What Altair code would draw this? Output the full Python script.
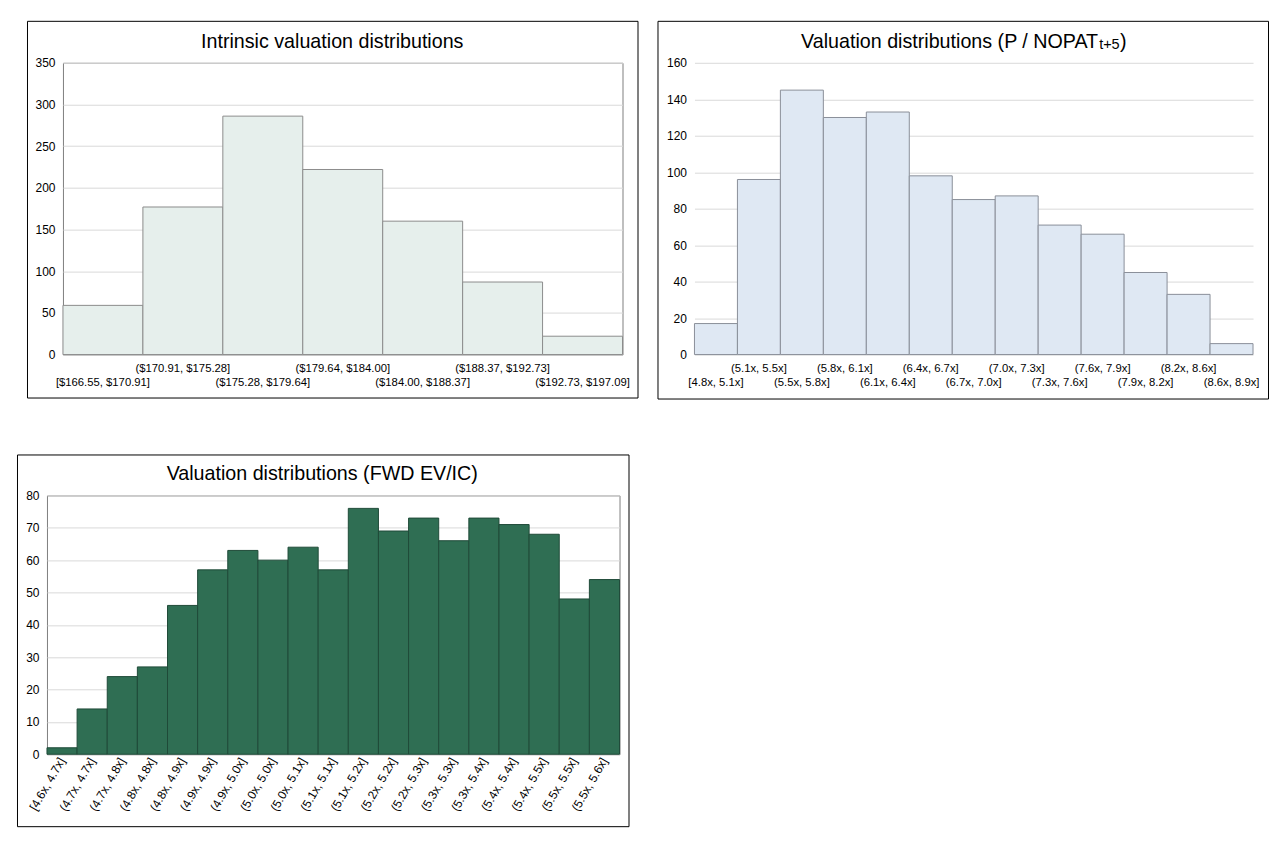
import altair as alt
import pandas as pd

FONT = "Liberation Sans, Arial, Helvetica, sans-serif"

# ---------------- data ----------------
intrinsic_bins = ["[$166.55, $170.91]", "($170.91, $175.28]", "($175.28, $179.64]",
                  "($179.64, $184.00]", "($184.00, $188.37]", "($188.37, $192.73]",
                  "($192.73, $197.09]"]
intrinsic_counts = [59, 177, 286, 222, 160, 87, 22]

nopat_bins = ["[4.8x, 5.1x]", "(5.1x, 5.5x]", "(5.5x, 5.8x]", "(5.8x, 6.1x]", "(6.1x, 6.4x]",
              "(6.4x, 6.7x]", "(6.7x, 7.0x]", "(7.0x, 7.3x]", "(7.3x, 7.6x]", "(7.6x, 7.9x]",
              "(7.9x, 8.2x]", "(8.2x, 8.6x]", "(8.6x, 8.9x]"]
nopat_counts = [17, 96, 145, 130, 133, 98, 85, 87, 71, 66, 45, 33, 6]

evic_bins = ["[4.6x, 4.7x]", "(4.7x, 4.7x]", "(4.7x, 4.8x]", "(4.8x, 4.8x]", "(4.8x, 4.9x]",
             "(4.9x, 4.9x]", "(4.9x, 5.0x]", "(5.0x, 5.0x]", "(5.0x, 5.1x]", "(5.1x, 5.1x]",
             "(5.1x, 5.2x]", "(5.2x, 5.2x]", "(5.2x, 5.3x]", "(5.3x, 5.3x]", "(5.3x, 5.4x]",
             "(5.4x, 5.4x]", "(5.4x, 5.5x]", "(5.5x, 5.5x]", "(5.5x, 5.6x]"]
evic_counts = [2, 14, 24, 27, 46, 57, 63, 60, 64, 57, 76, 69, 73, 66, 73, 71, 68, 48, 54]

title_intrinsic = "Intrinsic valuation distributions"
title_nopat_main = "Valuation distributions (P / NOPAT"
title_nopat_sub = "t+5"
title_nopat_end = ")"
title_evic = "Valuation distributions (FWD EV/IC)"


def y_axis(ymax, step):
    return alt.Axis(values=list(range(0, ymax + 1, step)), title=None, domain=False,
                    ticks=False, labelPadding=8, labelFontSize=12, labelColor="black",
                    labelFont=FONT, gridColor="#d9d9d9", gridWidth=1)


def stagger_axis(n):
    return alt.Axis(title=None, ticks=False, domain=False, grid=False, labelAngle=0,
                    labelOverlap=False, labelFlush=False, labelFontSize=11.3, labelPadding=8,
                    labelBaseline="top", labelAlign="center", labelLineHeight=14,
                    labelColor="black", labelFont=FONT,
                    labelExpr=f"round(datum.index*{n - 1}) % 2 == 0 ? ['', datum.label] : datum.label")


def rotated_axis():
    return alt.Axis(title=None, ticks=False, domain=False, grid=False, labelAngle=-60,
                    labelAlign="right", labelBaseline="middle", labelOverlap=False,
                    labelFlush=False, labelFontSize=12, labelPadding=4,
                    labelColor="black", labelFont=FONT)


def bars(bins, counts, ymax, step, fill, stroke, xaxis):
    df = pd.DataFrame({"bin": bins, "count": counts})
    return alt.Chart(df).mark_bar(fill=fill, stroke=stroke, strokeWidth=1).encode(
        x=alt.X("bin:N", sort=None, scale=alt.Scale(paddingInner=0, paddingOuter=0), axis=xaxis),
        y=alt.Y("count:Q", scale=alt.Scale(domain=[0, ymax], nice=False), axis=y_axis(ymax, step)),
        tooltip=["bin:N", "count:Q"],
    )


def box(x1, x2, y1, y2, opacity=1):
    return alt.Chart(alt.Data(values=[{}])).mark_rect(
        fill="transparent", stroke="black", strokeWidth=1, opacity=opacity
    ).encode(x=alt.value(x1), x2=alt.value(x2), y=alt.value(y1), y2=alt.value(y2))


def label(txt, x, y, size=19.7, align="center"):
    return alt.Chart(alt.Data(values=[{}])).mark_text(
        text=txt, fontSize=size, font=FONT, align=align, baseline="alphabetic", color="black"
    ).encode(x=alt.value(x), y=alt.value(y))


def spacer(w):
    # empty, invisible cell used only to offset the panels horizontally
    return alt.Chart(alt.Data(values=[{}])).mark_rect(opacity=0).encode(
        x=alt.value(0), x2=alt.value(1), y=alt.value(0), y2=alt.value(1)
    ).properties(width=w, height=1)


# ---------------- chart 1 ----------------
c1 = alt.layer(
    bars(intrinsic_bins, intrinsic_counts, 350, 50, "#e6efec", "#8c8c8c", stagger_axis(len(intrinsic_bins))),
    box(-35.5, 575.5, -41.5, 335.5),
    label(title_intrinsic, 269.5, -15),
).properties(width=560, height=292, view=alt.ViewBackground(stroke="#808080", strokeWidth=1))

# ---------------- chart 2 ----------------
c2 = alt.layer(
    bars(nopat_bins, nopat_counts, 160, 20, "#dfe8f3", "#8a8f99", stagger_axis(len(nopat_bins))),
    box(-36.5, 574.5, -41.5, 336.5),
    box(-54.5, -53.5, 0, 1, opacity=0),
    label(title_nopat_main, 404, -15, align="right"),
    label(title_nopat_sub, 405, -14, size=14.5, align="left"),
    label(title_nopat_end, 426, -15, align="left"),
).properties(width=559, height=292)

# ---------------- chart 3 ----------------
c3 = alt.layer(
    bars(evic_bins, evic_counts, 80, 10, "#2f6e53", "#1f4a38", rotated_axis()),
    box(-29.5, 582.5, -40.5, 331.5),
    label(title_evic, 275.5, -15),
).properties(width=573, height=259, view=alt.ViewBackground(stroke="#808080", strokeWidth=1))

row1 = alt.hconcat(spacer(11), c1, c2, spacing=0)
row2 = alt.hconcat(spacer(1), c3, spacing=0)

chart = alt.vconcat(row1, row2, spacing=53).properties(
    padding={"left": 5, "top": 11.5, "right": 4, "bottom": 4},
    background="white",
).configure(font=FONT, view=alt.ViewConfig(stroke="transparent"))

chart.save("out.html", embed_options={"renderer": "svg", "actions": False})
